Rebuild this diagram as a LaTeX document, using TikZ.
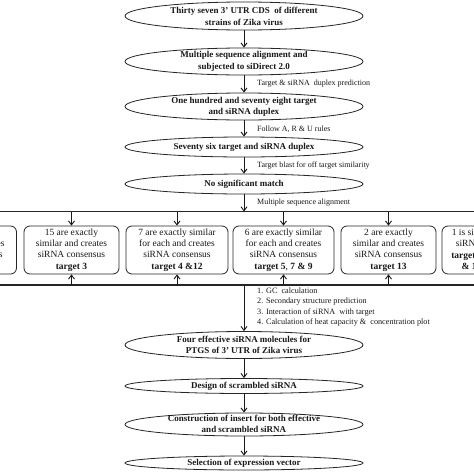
\documentclass[tikz,border=0pt]{standalone}
\usepackage{fontspec}
\setmainfont{Liberation Serif}
\usetikzlibrary{shapes.geometric,arrows.meta}
\begin{document}
\begin{tikzpicture}[x=1pt,y=-1pt,
  ell/.style={draw=black!85, line width=0.8pt, ellipse, minimum width=238pt, inner sep=0pt},
  etxt/.style={font=\fontsize{9}{11.5}\selectfont\bfseries, align=center, inner sep=0pt, text=black!90},
  lbl/.style={font=\fontsize{8}{10.6}\selectfont, anchor=west, inner sep=0pt, align=left, text=black!90},
  bx/.style={draw=black!85, rounded corners=6pt, line width=0.8pt, minimum height=48pt, inner sep=0pt,
             font=\fontsize{9.5}{11.3}\selectfont, align=center, text=black!90},
  arr/.style={-{Straight Barb[length=4pt,width=6pt]}, line width=0.9pt, draw=black!90}]
\useasboundingbox (0,0) rectangle (474,474);
\clip (0,0) rectangle (474,474);
\fill[white] (0,0) rectangle (474,474);

% top chain
\node[ell, minimum height=28pt] (e1) at (244,16) {};
\node[etxt] (t1) at (244,16.5) {Thirty seven 3' UTR CDS\ \ of different\\strains of Zika virus};
\node[ell, minimum height=27pt] (e2) at (244,61.5) {};
\node[etxt] (t2) at (244,61.5) {Multiple sequence alignment and\\subjected to siDirect 2.0};
\node[ell, minimum height=27pt] (e3) at (244,106.5) {};
\node[etxt] (t3) at (244,107) {One hundred and seventy eight target\\and siRNA duplex};
\node[ell, minimum height=20pt] (e4) at (244,147) {};
\node[etxt] (t4) at (244,147.5) {Seventy six target and siRNA duplex};
\node[ell, minimum height=20pt] (e5) at (244,184) {};
\node[etxt] (t5) at (244,184.5) {No significant match};

\draw[arr] (e1) -- (e2);
\draw[arr] (e2) -- (e3);
\draw[arr] (e3) -- (e4);
\draw[arr] (e4) -- (e5);
\node[lbl] (l1) at (257,84) {Target \& siRNA\ \ duplex prediction};
\node[lbl] (l2) at (257,129) {Follow A, R \& U rules};
\node[lbl] (l3) at (257,166) {Target blast for off target similarity};
\node[lbl] (l4) at (257,203) {Multiple sequence alignment};

% big frame
\coordinate (tl) at (0,211.5);
\coordinate (bl) at (0,285);
\coordinate (tin) at (244,211.5);
\coordinate (bout) at (244,285);
\draw[line width=1.3pt, draw=black!85] (-20,211.5) rectangle (494,285);
\draw[arr] (e5) -- (tin);

% boxes
\node[bx, minimum width=95pt] (b1) at (-31,250) {\phantom{x}\\similar and creates\\siRNA consensus\\\phantom{x}};
\node[bx, minimum width=95pt] (b2) at (71.5,250) {15 are exactly\\similar and creates\\siRNA consensus\\\textbf{target 3}};
\node[bx, minimum width=102pt] (b3) at (177,250) {7 are exactly similar\\for each and creates\\siRNA consensus\\\textbf{target 4 \&12}};
\node[bx, minimum width=101pt] (b4) at (283.5,250) {6 are exactly similar\\for each and creates\\siRNA consensus\\\textbf{target 5}, \textbf{7 \& 9}};
\node[bx, minimum width=95pt] (b5) at (388.5,250) {2 are exactly\\similar and creates\\siRNA consensus\\\textbf{target 13}};
\node[bx, minimum width=95pt] (b6) at (489.5,250) {1 is similar for each\\siRNA consensus\\\textbf{target 1, 2, 6, 8, 10,}\\\textbf{\& 11, 14 \& 15}};

\foreach \b in {b1,b2,b3,b4,b5,b6}{
  \draw[arr] (\b |- tl) -- (\b.north);
  \draw[arr] (\b |- bl) -- (\b.south);
}

% lower chain
\node[lbl, font=\fontsize{8.2}{10.6}\selectfont] (l5) at (257,307) {1. GC\ \ calculation\\2. Secondary structure prediction\\3. Interaction of siRNA\ \ with target\\4. Calculation of heat capacity \&\ \ concentration plot};
\node[ell, minimum height=27pt] (e6) at (244,345) {};
\node[etxt] (t6) at (244,345) {Four effective siRNA molecules for\\PTGS of 3' UTR of Zika virus};
\node[ell, minimum height=15pt] (e7) at (244,386) {};
\node[etxt] (t7) at (244,386.5) {Design of scrambled siRNA};
\node[ell, minimum height=23pt] (e8) at (244,424.5) {};
\node[etxt] (t8) at (244,424) {Construction of insert for both effective\\and scrambled siRNA};
\node[ell, minimum height=14pt] (e9) at (244,463) {};
\node[etxt] (t9) at (244,463) {Selection of expression vector};

\draw[arr] (bout) -- (e6);
\draw[arr] (e6) -- (e7);
\draw[arr] (e7) -- (e8);
\draw[arr] (e8) -- (e9);
\end{tikzpicture}
\end{document}
